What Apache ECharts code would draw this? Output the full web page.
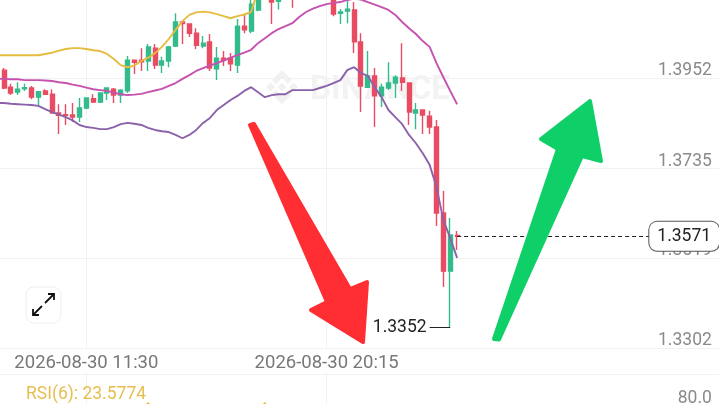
<!DOCTYPE html>
<html><head><meta charset="utf-8">
<style>html,body{margin:0;padding:0;background:#fff}#c{width:719px;height:404px}</style>
<script src="https://cdn.jsdelivr.net/npm/echarts@6/dist/echarts.min.js"></script>
</head><body><div id="c"></div>
<script>
const opens=[1.3971,1.3930,1.3918,1.3926,1.3928,1.3906,1.3921,1.3913,1.3868,1.3864,1.3863,1.3858,1.3880,1.3902,1.3894,1.3916,1.3925,1.3911,1.3921,1.3995,1.3995,1.3993,1.4024,1.3983,1.3993,1.4029,1.4087,1.4082,1.4060,1.4029,1.4039,1.3974,1.4000,1.4000,1.3983,1.4077,1.4065,1.4116,1.4174,1.4155,1.4137,1.4180,1.4175,1.4195,1.4180,1.4195,1.4190,1.4185,1.4159,1.4108,1.4113,1.4116,1.4039,1.3930,1.3957,1.3909,1.3928,1.3940,1.3952,1.3940,1.3868,1.3875,1.3860,1.3834,1.3627,1.3487,1.3573];
const closes=[1.3928,1.3916,1.3925,1.3929,1.3906,1.3919,1.3913,1.3868,1.3862,1.3862,1.3858,1.3880,1.3904,1.3894,1.3916,1.3928,1.3911,1.3923,1.3995,1.3990,1.3991,1.4027,1.3983,1.3993,1.4027,1.4087,1.4083,1.4060,1.4031,1.4036,1.3976,1.4000,1.3995,1.3986,1.4077,1.4068,1.4130,1.4147,1.4200,1.4135,1.4160,1.4195,1.4145,1.4180,1.4190,1.4178,1.4180,1.4175,1.4106,1.4111,1.4118,1.4039,1.3933,1.3957,1.3909,1.3930,1.3940,1.3954,1.3942,1.3870,1.3875,1.3863,1.3834,1.3627,1.3487,1.3574,1.3571];
const lows=[1.3925,1.3911,1.3911,1.3921,1.3901,1.3887,1.3911,1.3867,1.3817,1.3839,1.3846,1.3846,1.3877,1.3892,1.3892,1.3899,1.3892,1.3892,1.3916,1.3962,1.3969,1.3969,1.3974,1.3964,1.3978,1.4027,1.4034,1.4051,1.4022,1.4024,1.3969,1.3947,1.3981,1.3969,1.3964,1.4060,1.4060,1.4113,1.4173,1.4082,1.4117,1.4175,1.4121,1.4172,1.4175,1.4172,1.4175,1.4172,1.4101,1.4082,1.4084,1.4012,1.3870,1.3930,1.3834,1.3882,1.3923,1.3904,1.3921,1.3839,1.3829,1.3817,1.3817,1.3596,1.3449,1.3352,1.3538];
const highs=[1.3976,1.3938,1.3942,1.3938,1.3933,1.3921,1.3925,1.3925,1.3889,1.3889,1.3892,1.3904,1.3906,1.3913,1.3916,1.3928,1.3928,1.3925,1.4005,1.3995,1.4024,1.4034,1.4034,1.4003,1.4029,1.4108,1.4087,1.4084,1.4072,1.4053,1.4058,1.4027,1.4017,1.4012,1.4094,1.4104,1.4152,1.4176,1.4210,1.4170,1.4170,1.4205,1.4185,1.4205,1.4200,1.4205,1.4200,1.4195,1.4170,1.4118,1.4150,1.4135,1.4060,1.4017,1.3976,1.3938,1.3990,1.3959,1.4036,1.3940,1.3892,1.3877,1.3873,1.3851,1.3680,1.3615,1.3584];
const upperBand=[1.4007,1.4007,1.4007,1.4007,1.4007,1.4007,1.4010,1.4013,1.4018,1.4022,1.4024,1.4024,1.4022,1.4019,1.4017,1.4010,1.3998,1.3983,1.3978,1.3982,1.3993,1.4001,1.4012,1.4027,1.4046,1.4068,1.4089,1.4104,1.4110,1.4112,1.4110,1.4106,1.4101,1.4096,1.4101,1.4105,1.4111,1.4164,1.4188];
const middleBand=[1.3950,1.3949,1.3949,1.3947,1.3947,1.3947,1.3946,1.3945,1.3942,1.3940,1.3936,1.3933,1.3929,1.3925,1.3923,1.3921,1.3917,1.3913,1.3911,1.3912,1.3914,1.3918,1.3922,1.3926,1.3933,1.3940,1.3950,1.3959,1.3969,1.3976,1.3982,1.3988,1.3994,1.4001,1.4007,1.4013,1.4020,1.4036,1.4048,1.4060,1.4070,1.4077,1.4084,1.4099,1.4111,1.4119,1.4125,1.4130,1.4133,1.4135,1.4140,1.4143,1.4141,1.4135,1.4129,1.4123,1.4116,1.4104,1.4087,1.4072,1.4058,1.4041,1.4027,1.3988,1.3954,1.3921,1.3889];
const lowerBand=[1.3892,1.3890,1.3889,1.3888,1.3887,1.3885,1.3877,1.3870,1.3864,1.3858,1.3850,1.3839,1.3834,1.3832,1.3829,1.3829,1.3834,1.3841,1.3844,1.3842,1.3839,1.3832,1.3827,1.3824,1.3822,1.3815,1.3807,1.3815,1.3827,1.3844,1.3856,1.3875,1.3887,1.3899,1.3909,1.3921,1.3930,1.3918,1.3906,1.3911,1.3913,1.3913,1.3923,1.3923,1.3923,1.3923,1.3928,1.3933,1.3940,1.3947,1.3971,1.3978,1.3964,1.3957,1.3930,1.3906,1.3875,1.3858,1.3841,1.3815,1.3795,1.3771,1.3743,1.3690,1.3610,1.3567,1.3519];
const rsiIndexes=[20,21,22,37,38,39];
const rsiPeaks=[76,81.5,76,76,81.5,76];
const priceTicks=[1.3302,1.3519,1.3735,1.3952];
const priceAxisMin=1.3302, priceAxisMax=1.41688;
const rsiTicks=[80];
const timeTickLabels=['2026-08-30 11:30','2026-08-30 20:15'];
const timeTickIndexes=[13,48];   // positions on the time axis (it has one empty leading slot)
const rsiLabel='RSI(6): 23.5774';
const slots=107;
const categories=Array.from({length:slots},(_,i)=>{
  const at=timeTickIndexes.indexOf(i);
  return at>=0?timeTickLabels[at]:'t'+i;
});
const leadIn=a=>[a[0]].concat(a);
const candles=opens.map((o,i)=>[o,closes[i],lows[i],highs[i]]);
const rsi=new Array(68).fill('-');
rsiIndexes.forEach((k,n)=>{rsi[k+1]=rsiPeaks[n]});
const lastIdx=opens.length;          // slot of last candle
const lowIdx=lows.indexOf(Math.min(...lows))+1;
const current=closes[closes.length-1];
const lowest=Math.min(...lows);

const FONT='Roboto';
const GRIDC='#f1f1f1';
const isTick=i=>timeTickIndexes.includes(i);
const xLeft=-2.865, xWidth=6.865*(slots-1);
const chart=echarts.init(document.getElementById('c'),null,{renderer:'canvas'});

function arrow(points,color){return {type:'polygon',z:100,shape:{points},
  style:{fill:color,stroke:color,lineWidth:4,lineJoin:'round'},silent:true};}
function mark(points){return {type:'polygon',z:1,shape:{points},style:{fill:'#f1f1f1'},silent:true};}
function line(pts,w){return {type:'polyline',z:101,shape:{points:pts},style:{stroke:'#111',fill:'none',lineWidth:w,lineJoin:'miter'},silent:true};}

chart.setOption({
  animation:false,
  backgroundColor:'#fff',
  textStyle:{fontFamily:FONT},
  grid:[
    {left:xLeft,width:xWidth,top:-12,height:360,containLabel:false,outerBoundsMode:'none'},
    {left:xLeft,width:xWidth,top:372.425,height:159.075,containLabel:false,outerBoundsMode:'none'}
  ],
  xAxis:[
    {type:'category',gridIndex:0,data:categories,boundaryGap:false,
     axisLine:{show:false},axisTick:{show:false},
     splitLine:{show:true,interval:i=>isTick(i),lineStyle:{color:GRIDC,width:1}},
     axisLabel:{show:true,customValues:timeTickIndexes,color:'#777',fontSize:18.5,fontFamily:FONT,margin:6}},
    {type:'category',gridIndex:1,data:categories,boundaryGap:false,
     axisLine:{show:false},axisTick:{show:false},axisLabel:{show:false},
     splitLine:{show:true,interval:i=>isTick(i),lineStyle:{color:GRIDC,width:1}}}
  ],
  yAxis:[
    {type:'value',gridIndex:0,position:'right',min:priceAxisMin,max:priceAxisMax,scale:true,
     axisLine:{show:false},
     axisTick:{show:false,customValues:priceTicks},
     splitLine:{show:true,customValues:priceTicks,lineStyle:{color:GRIDC,width:1}},
     axisLabel:{show:true,inside:true,customValues:priceTicks,margin:13,color:'#8a8a8a',fontSize:17.5,lineHeight:14,fontFamily:FONT,verticalAlign:'bottom',
       formatter:v=>v.toFixed(4)}},
    {type:'value',gridIndex:1,position:'right',min:0,max:101,
     axisLine:{show:false},
     axisTick:{show:false,customValues:rsiTicks},
     splitLine:{show:true,customValues:[100,80],lineStyle:{color:GRIDC,width:1}},
     axisLabel:{show:true,inside:true,customValues:rsiTicks,margin:13,color:'#8a8a8a',fontSize:17.5,lineHeight:14,fontFamily:FONT,verticalAlign:'bottom',
       formatter:v=>v.toFixed(1)}}
  ],
  series:[
    {type:'line',name:'upper',data:leadIn(upperBand),showSymbol:false,symbol:'none',z:3,lineStyle:{color:'#E5BC3F',width:1.9}},
    {type:'candlestick',name:'price',data:[['-','-','-','-']].concat(candles),barWidth:4.5,z:2,
     itemStyle:{color:'#34BB8C',color0:'#E94C62',borderColor:'#34BB8C',borderColor0:'#E94C62',borderWidth:1.4},
     markLine:{silent:true,symbol:'none',animation:false,z:5,precision:4,
       data:[
        [{coord:[lastIdx,current],lineStyle:{color:'#222',type:[4,3],width:1},
          label:{show:true,position:'end',formatter:current.toFixed(4),distance:0,color:'#222',fontSize:17.5,fontFamily:FONT,backgroundColor:'#fff',borderColor:'#555',borderWidth:1,borderRadius:8,padding:[6,8,5,8]}},
         {coord:[95,current]}],
        [{coord:[lowIdx,lowest],lineStyle:{color:'#222',type:'solid',width:1},
          label:{show:true,position:'end',formatter:lowest.toFixed(4),distance:3,color:'#222',fontSize:17.5,fontFamily:FONT}},
         {coord:[lowIdx-3,lowest]}]
       ]}},
    {type:'line',name:'middle',data:leadIn(middleBand),showSymbol:false,symbol:'none',z:3,lineStyle:{color:'#C651AE',width:1.9}},
    {type:'line',name:'lower',data:leadIn(lowerBand),showSymbol:false,symbol:'none',z:3,lineStyle:{color:'#8B62AA',width:1.9}},
    {type:'line',name:'rsi',xAxisIndex:1,yAxisIndex:1,data:rsi,connectNulls:false,showSymbol:false,symbol:'none',lineStyle:{color:'#E5BC3F',width:1.9},
     markLine:{silent:true,symbol:'none',animation:false,label:{show:false},lineStyle:{color:GRIDC,type:'solid',width:1},data:[{yAxis:100}]}}
  ],
  graphic:[
    mark([[282,70],[292,80],[288,84],[282,78],[276,84],[272,80]]),
    mark([[282,104],[292,94],[288,90],[282,96],[276,90],[272,94]]),
    mark([[282,82.5],[286.5,87],[282,91.5],[277.5,87]]),
    mark([[270.5,82.5],[275,87],[270.5,91.5],[266,87]]),
    mark([[293.5,82.5],[298,87],[293.5,91.5],[289,87]]),
    {type:'text',z:1,left:310,top:74,silent:true,style:{text:'BINANCE',fill:'#f3f3f3',font:'bold 33px Roboto'}},
    arrow([[250,125],[254,124],[350,289],[367,282],[363,342],[311,310],[327,302]],'#FE2E33'),
    arrow([[494,339],[499,339.5],[582,156],[601,161],[590,101],[541,139],[558,149]],'#0FD068'),
    {type:'rect',z:100,shape:{x:26,y:287,width:35,height:36,r:8},style:{fill:'#fff',stroke:'#eee',lineWidth:1},silent:true},
    line([[33,315],[42,306]],1.8),line([[45,303],[54,294]],1.8),
    line([[33,309],[33,315],[39,315]],1.8),line([[48,294],[54,294],[54,300]],1.8),
    {type:'text',z:100,left:26,top:386,silent:true,style:{text:rsiLabel,fill:'#E6BE50',font:'17.5px Roboto'}}
  ]
});
</script></body></html>
